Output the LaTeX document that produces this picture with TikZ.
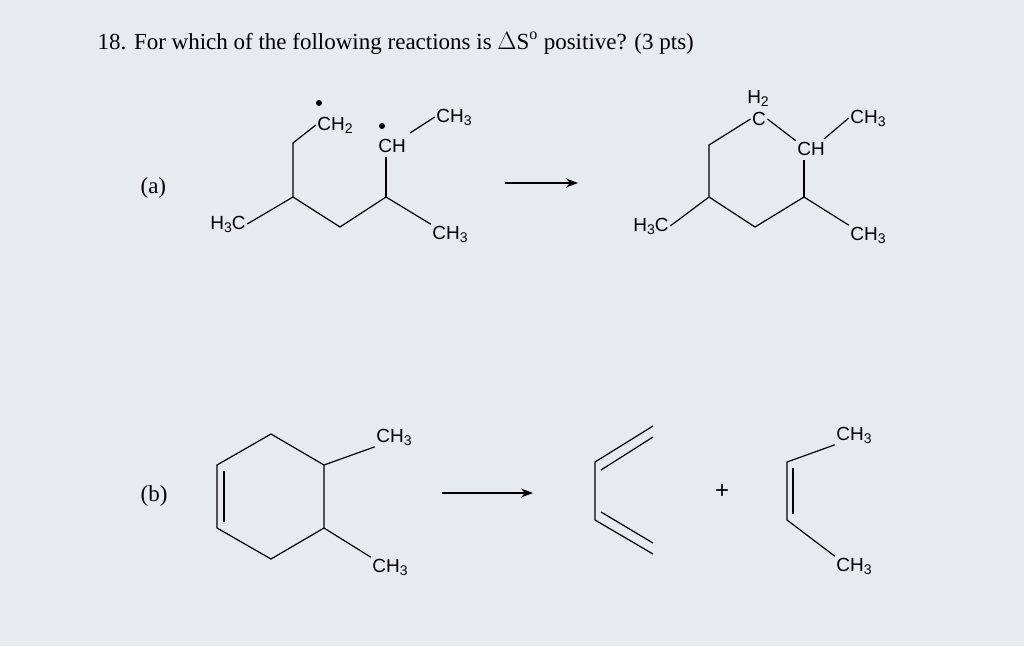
\documentclass[tikz,border=0pt]{standalone}
\usepackage{fontspec}
\usetikzlibrary{arrows.meta}
\setmainfont{Liberation Serif}
\newfontfamily\chemf{Liberation Sans}
\newcommand{\csub}[1]{\raisebox{-0.3ex}{\fontsize{14}{14}\selectfont #1}}
\begin{document}
\begin{tikzpicture}[x=1pt,y=-1pt,line width=1.2pt,
  lab/.style={font=\chemf\fontsize{19}{19}\selectfont,inner sep=1pt},
  txt/.style={font=\fontsize{23}{25}\selectfont,inner sep=0pt,anchor=base west},
  arr/.style={-{Stealth[length=12pt,width=9pt]}},
  rad/.style={circle,fill=black,inner sep=0pt,minimum size=6pt}]
\fill[color={rgb,255:red,230;green,235;blue,238}] (0,0) rectangle (1024,646);
\useasboundingbox (0,0) rectangle (1024,646);
\node[txt] (title) at (97,49) {18. For which of the following reactions is $\Delta$S\textsuperscript{o} positive? (3 pts)};
\node[txt] (la) at (140,193) {(a)};
\node[txt] (lb) at (140,501) {(b)};
% reactant a
\node[lab] (h3c1) at (228,224) {H\csub{3}C};
\coordinate (A) at (293,197); \coordinate (A1) at (293,143);
\node[lab] (ch2) at (335,125) {CH\csub{2}};
\node[rad] (d1) at (319,103) {};
\coordinate (M1) at (340,227); \coordinate (B) at (386,197);
\node[lab] (ch) at (392,146) {CH};
\node[rad] (d2) at (382,126) {};
\node[lab] (ch3a) at (454,117) {CH\csub{3}};
\node[lab] (ch3b) at (450,234) {CH\csub{3}};
\draw (h3c1.east) -- (A) -- (A1) -- (ch2.west);
\draw (A) -- (M1) -- (B) -- (ch3b.north west);
\draw (B) -- (386,157);
\draw (410,133) -- (ch3a.west);
% arrow a
\coordinate (a1) at (505,183); \coordinate (a2) at (578,183);
\draw[arr] (a1) -- (a2);
% product a
\node[lab] (h3c2) at (651,226) {H\csub{3}C};
\coordinate (C) at (709,197); \coordinate (C1) at (709,145);
\node[lab] (cc) at (759,119) {C};
\node[lab] (h2) at (758,98) {H\csub{2}};
\node[lab] (ch2b) at (811,149) {CH};
\node[lab] (ch3c) at (868,118) {CH\csub{3}};
\coordinate (M2) at (755,227); \coordinate (D) at (804,197);
\node[lab] (ch3d) at (868,235) {CH\csub{3}};
\draw (h3c2.east) -- (C) -- (C1) -- (cc.west);
\draw (cc.east) -- (ch2b.north west);
\draw (804,160) -- (D);
\draw (824,139) -- (ch3c.west);
\draw (C) -- (M2) -- (D) -- (ch3d.north west);
% reactant b
\coordinate (r1) at (271,434); \coordinate (r2) at (324,465); \coordinate (r3) at (324,528);
\coordinate (r4) at (271,559); \coordinate (r5) at (217,528); \coordinate (r6) at (217,465);
\draw (r1) -- (r2) -- (r3) -- (r4) -- (r5) -- (r6) -- cycle;
\draw (224,471) -- (224,522);
\node[lab] (ch3e) at (394,437) {CH\csub{3}};
\node[lab] (ch3f) at (390,567) {CH\csub{3}};
\draw (r2) -- (ch3e.south west);
\draw (r3) -- (ch3f.north west);
\draw[arr] (442,493) -- (533,493);
% butadiene
\coordinate (b1) at (653,426); \coordinate (b2) at (595,462); \coordinate (b3) at (595,520); \coordinate (b4) at (653,554);
\draw (b1) -- (b2) -- (b3) -- (b4);
\draw (601,470) -- (653,437);
\draw (601,512) -- (653,543);
\node[lab,font=\chemf\fontsize{24}{24}\selectfont] (plus) at (722,492) {+};
% butene
\node[lab] (ch3g) at (854,435) {CH\csub{3}};
\node[lab] (ch3h) at (854,566) {CH\csub{3}};
\coordinate (e1) at (787,462); \coordinate (e2) at (787,520);
\draw (ch3g.south west) -- (e1) -- (e2) -- (ch3h.north west);
\draw (793,468) -- (793,514);
\end{tikzpicture}
\end{document}
